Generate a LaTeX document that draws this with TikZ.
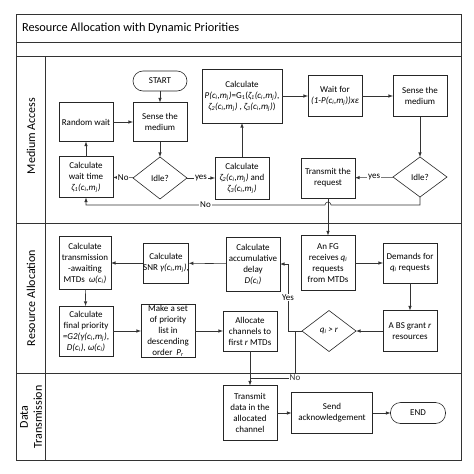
\documentclass[tikz,border=0pt]{standalone}
\usepackage{amsmath}
\usepackage{fontspec}
\setmainfont{Carlito}
\usetikzlibrary{arrows,shapes.geometric}
\newcommand{\cimj}{c\textsubscript{i},m\textsubscript{j}}
\tikzset{
    procnode/.style = {
        align=center,
        rectangle,
        draw=black!85,
        line width=0.6pt,
        font=\fontsize{9}{11}\selectfont,
        minimum width=54pt,
        minimum height=40pt,
        inner sep=0pt,
        outer sep=0mm
    },
    decnode/.style = {
        procnode,
        diamond,
        minimum width=54pt,
        minimum height=42pt
    },
    termnode/.style = {
        procnode,
        rounded corners=10pt,
        minimum width=54pt,
        minimum height=20pt
    },
    arr/.style = {
        -latex,
        draw=black!80,
        line width=0.6pt
    },
    lbl/.style = {
        fill=white,
        inner sep=0.8pt,
        font=\fontsize{9}{11}\selectfont
    },
    lanelabel/.style = {
        rotate=90,
        align=center,
        font=\fontsize{12}{14}\selectfont
    }
}
\begin{document}
\begin{tikzpicture}[x=1pt, y=-1pt]
    \useasboundingbox (0,0) rectangle (474,474);
    % frame and lanes
    \draw[line width=0.8pt, black!80] (16,14) rectangle (461,460);
    \draw[line width=0.8pt, black!80] (16,42) -- (461,42);
    \draw[line width=0.8pt, black!80] (16,56) -- (461,56);
    \draw[line width=0.8pt, black!80] (45,56) -- (45,460);
    \draw[line width=0.8pt, black!80] (16,223) -- (461,223);
    \draw[line width=0.8pt, black!80] (16,373) -- (461,373);
    \node[anchor=west, font=\fontsize{12.3}{14}\selectfont] (title) at (18.5,28) {Resource Allocation with Dynamic Priorities};
    \node[lanelabel] (lanema) at (31,136) {Medium Access};
    \node[lanelabel] (lanera) at (31,298) {Resource Allocation};
    \node[lanelabel] (lanedt) at (31,417) {Data\\Transmission};

    % medium access
    \node [termnode] (start) at (160,81) {START};
    \node [procnode, minimum height=39pt] (sense1) at (160,122) {Sense the\\medium};
    \node [procnode, minimum height=39pt] (randwait) at (86,122) {Random wait};
    \node [decnode] (idle1) at (160,178) {Idle?};
    \node [procnode, minimum height=41pt] (waittime) at (86,177) {Calculate\\wait time\\\textit{ζ\textsubscript{1}(\cimj)}};
    \node [procnode, minimum height=42pt] (zeta23) at (242,178) {Calculate\\\textit{ζ\textsubscript{2}(\cimj)} and\\\textit{ζ\textsubscript{3}(\cimj)}};
    \node [procnode, minimum width=80pt, minimum height=54pt] (calcp) at (242,96)
        {Calculate\\\textit{P(\cimj)}=G\textsubscript{1}(\textit{ζ\textsubscript{1}(\cimj)},\\\textit{ζ\textsubscript{2}(\cimj)} , \textit{ζ\textsubscript{3}(\cimj)})};
    \node [procnode, minimum height=41pt] (waitfor) at (335,96) {Wait for\\\textit{(1-P(\cimj))xε}};
    \node [procnode, minimum height=41pt] (sense2) at (420,96) {Sense the\\medium};
    \node [decnode, minimum height=40pt] (idle2) at (420,177) {Idle?};
    \node [procnode] (transreq) at (328,178) {Transmit the\\request};

    % resource allocation
    \node [procnode, minimum width=52pt, minimum height=53pt] (awaiting) at (85,263) {Calculate\\transmission\\-awaiting\\MTDs~ \textit{ω(c\textsubscript{i})}};
    \node [procnode, minimum width=45pt] (snr) at (166,263) {Calculate\\SNR \textit{γ(\cimj)},};
    \node [procnode, minimum height=54pt] (delay) at (253,264) {Calculate\\accumulative\\delay\\\textit{D(c\textsubscript{i})}};
    \node [procnode, minimum height=55pt] (fgrecv) at (328,263) {An FG\\receives \textit{q\textsubscript{i}}\\requests\\from MTDs};
    \node [procnode] (demands) at (410,263) {Demands for\\\textit{q\textsubscript{i}} requests};
    \node [procnode, minimum height=41pt] (bsgrant) at (410,331) {A BS grant \textit{r}\\resources};
    \node [decnode, minimum height=41pt] (qcheck) at (329,331) {\textit{q\textsubscript{i} > r}};
    \node [procnode, minimum height=50pt] (finalprio) at (86,331) {Calculate\\final priority\\\textit{=G2(γ(\cimj)},\\\textit{D(c\textsubscript{i})}, \textit{ω(c\textsubscript{i})}};
    \node [procnode, minimum height=53pt] (prioset) at (168,331) {Make a set\\of priority\\list in\\descending\\order~ \textit{P\textsubscript{r}}};
    \node [procnode] (allocate) at (250,331) {Allocate\\channels to\\first \textit{r} MTDs};
    \coordinate (yesturn) at (288,331);
    \coordinate (nosplit) at (295,331);
    \coordinate (nojoin) at (250,378);

    % data transmission
    \node [procnode, minimum height=55pt] (transdata) at (250,413) {Transmit\\data in the\\allocated\\channel};
    \node [procnode, minimum width=81pt, minimum height=41pt] (sendack) at (332,413) {Send\\acknowledgement};
    \node [termnode, minimum width=55pt, minimum height=21pt] (finish) at (418,413) {END};

    % connectors
    \draw[arr] (start) -- (sense1);
    \draw[arr] (sense1) -- (idle1);
    \draw[arr] (idle1) -- node[lbl]{No} (waittime);
    \draw[arr] (waittime) -- (randwait);
    \draw[arr] (randwait) -- (sense1);
    \draw[arr] (idle1) -- node[lbl]{yes} (zeta23);
    \draw[arr] (zeta23) -- (calcp);
    \draw[arr] (calcp) -- (waitfor);
    \draw[arr] (waitfor) -- (sense2);
    \draw[arr] (sense2) -- (idle2);
    \draw[arr] (idle2) -- node[lbl]{yes} (transreq);
    \draw[arr] (idle2.south) |- (331,205) arc (0:-180:3) -| node[lbl, pos=0.25]{No} (waittime.south);
    \draw[arr] (transreq) -- (fgrecv);
    \draw[arr] (fgrecv) -- (demands);
    \draw[arr] (demands) -- (bsgrant);
    \draw[arr] (bsgrant) -- (qcheck);
    \draw[arr] (qcheck.west) -- (yesturn) |- node[lbl, pos=0.25]{Yes} (delay.east);
    \draw[arr] (delay) -- (snr);
    \draw[arr] (snr) -- (awaiting);
    \draw[arr] (awaiting) -- (finalprio);
    \draw[arr] (finalprio) -- (prioset);
    \draw[arr] (prioset) -- (allocate);
    \draw[line width=0.6pt, black!80] (nosplit) |- node[lbl]{No} (nojoin);
    \draw[arr] (allocate) -- (transdata);
    \draw[arr] (transdata) -- (sendack);
    \draw[arr] (sendack) -- (finish);
\end{tikzpicture}
\end{document}
